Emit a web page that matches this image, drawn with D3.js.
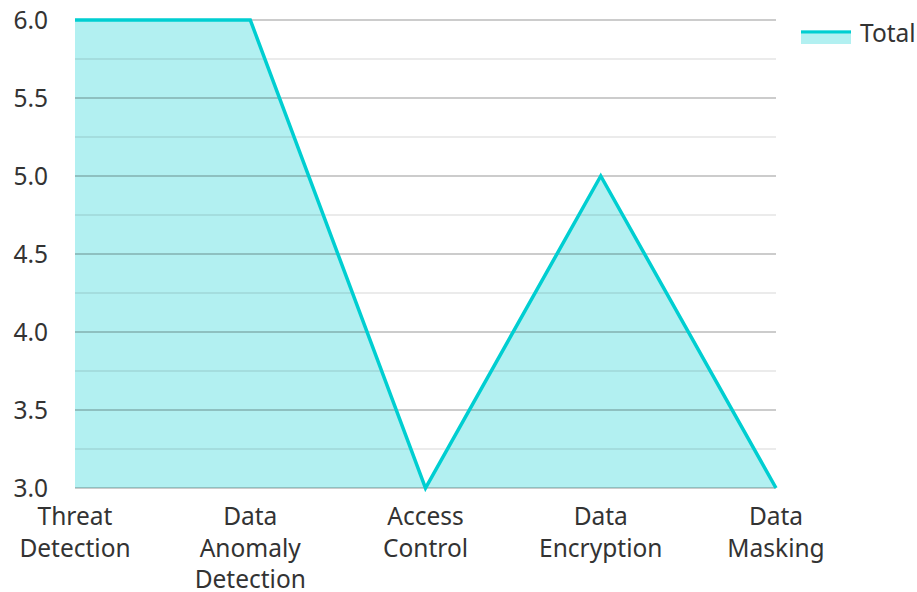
<!DOCTYPE html>
<html>
<head>
<meta charset="utf-8">
<script src="https://cdn.jsdelivr.net/npm/d3@7"></script>
<style>
  body { margin: 0; background: #fff; }
  text { font-family: "Noto Sans", "Open Sans", sans-serif; fill: #333; }
</style>
</head>
<body>
<script>
var categories = ["Threat Detection", "Data Anomaly Detection", "Access Control", "Data Encryption", "Data Masking"];
var totals = [6, 6, 3, 5, 3];
var majorTicks = [3.0, 3.5, 4.0, 4.5, 5.0, 5.5, 6.0];
var minorTicks = [3.25, 3.75, 4.25, 4.75, 5.25, 5.75];
var seriesName = "Total";

var W = 917, H = 592;
var margin = {top: 20, right: 141, bottom: 104, left: 75},
    width = W - margin.left - margin.right,
    height = H - margin.top - margin.bottom;

var lineColor = "#00ced1";
var fillColor = "rgba(0,206,209,0.3)";
var fontSize = "24.5px";

var svg = d3.select("body").append("svg")
    .attr("width", W)
    .attr("height", H);

var g = svg.append("g")
    .attr("transform", "translate(" + margin.left + "," + margin.top + ")");

var x = d3.scalePoint().domain(categories).range([0, width]);
var y = d3.scaleLinear().domain([3, 6]).range([height, 0]);

// area + line (gridlines show through the translucent fill)
var data = categories.map(function(c, i) { return {cat: c, v: totals[i]}; });

g.append("path")
    .attr("d", d3.area()
      .x(function(d) { return x(d.cat); })
      .y0(height)
      .y1(function(d) { return y(d.v); })(data))
    .attr("fill", fillColor);

// gridlines
g.selectAll(".minor").data(minorTicks).enter().append("line")
    .attr("x1", 0).attr("x2", width)
    .attr("y1", function(d) { return y(d); })
    .attr("y2", function(d) { return y(d); })
    .attr("stroke", "rgba(0,0,0,0.08)")
    .attr("stroke-width", 2);

g.selectAll(".major").data(majorTicks).enter().append("line")
    .attr("x1", 0).attr("x2", width)
    .attr("y1", function(d) { return y(d); })
    .attr("y2", function(d) { return y(d); })
    .attr("stroke", "rgba(0,0,0,0.2)")
    .attr("stroke-width", 2);

g.append("path")
    .attr("d", d3.line()
      .x(function(d) { return x(d.cat); })
      .y(function(d) { return y(d.v); })(data))
    .attr("fill", "none")
    .attr("stroke", lineColor)
    .attr("stroke-width", 3.5);

// y labels
g.selectAll(".ylab").data(majorTicks).enter().append("text")
    .attr("x", -27)
    .attr("y", function(d) { return y(d); })
    .attr("dy", "0.35em")
    .attr("text-anchor", "end")
    .style("font-size", fontSize)
    .text(function(d) { return d3.format(".1f")(d); });

// x labels, wrapped
var wrap = {
  "Threat Detection": ["Threat", "Detection"],
  "Data Anomaly Detection": ["Data", "Anomaly", "Detection"],
  "Access Control": ["Access", "Control"],
  "Data Encryption": ["Data", "Encryption"],
  "Data Masking": ["Data", "Masking"]
};
categories.forEach(function(c) {
  var t = g.append("text")
      .attr("text-anchor", "middle")
      .attr("transform", "translate(" + x(c) + "," + (height + 37) + ")")
      .style("font-size", fontSize);
  wrap[c].forEach(function(w, i) {
    t.append("tspan").attr("x", 0).attr("y", i * 31.5).text(w);
  });
});

// legend
var lg = svg.append("g").attr("transform", "translate(801,30)");
lg.append("rect").attr("width", 50).attr("height", 14).attr("fill", fillColor);
lg.append("line").attr("x1", 0).attr("x2", 50).attr("y1", 2).attr("y2", 2)
    .attr("stroke", lineColor).attr("stroke-width", 3);
lg.append("text").attr("x", 59).attr("y", 3).attr("dy", "0.35em")
    .style("font-size", fontSize).text(seriesName);
</script>
</body>
</html>
